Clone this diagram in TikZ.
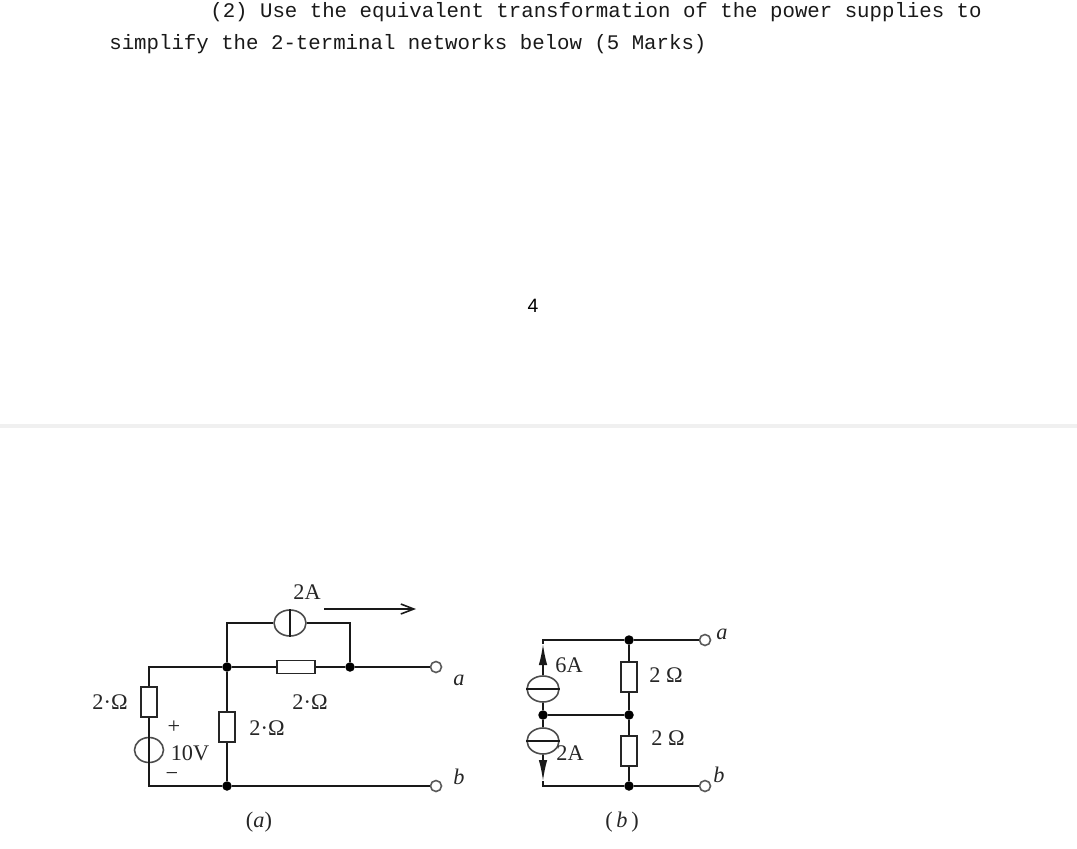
\documentclass[tikz,border=0pt]{standalone}
\usepackage{fontspec}
\setmainfont{Liberation Serif}
\setsansfont{Liberation Sans}
\setmonofont{Liberation Mono}
\usetikzlibrary{arrows.meta,shapes.geometric}

\tikzset{
  wire/.style={line width=0.9pt,black!90},
  res/.style={draw,line width=0.9pt,black!85,rectangle,inner sep=0pt,minimum width=0.32cm,minimum height=0.6cm},
  resh/.style={res,minimum width=0.76cm,minimum height=0.26cm},
  src/.style={draw,line width=0.9pt,black!70,ellipse,inner sep=0pt,minimum width=0.64cm,minimum height=0.52cm},
  dot/.style={circle,fill=black,inner sep=0pt,minimum size=0.19cm},
  term/.style={circle,draw,line width=0.9pt,black!65,fill=white,inner sep=0pt,minimum size=0.22cm},
  lab/.style={font=\fontsize{12.7}{14}\selectfont,text=black!85,inner sep=0pt},
  line/.style={font=\fontsize{11.8}{14}\ttfamily,text=black!90,inner sep=0pt,anchor=base west}
}

\begin{document}
\begin{tikzpicture}[x=0.02cm,y=-0.02cm]
\useasboundingbox (0,0) rectangle (1077,848);
\fill[white] (0,0) rectangle (1077,848);

\node[line] (l1) at (210,18) {(2) Use the equivalent transformation of the power supplies to};
\node[line] (l2) at (109,50) {simplify the 2-terminal networks below (5 Marks)};
\node[font=\fontsize{11}{13}\sffamily,inner sep=0pt] (pg) at (533,306) {4};
\fill[black!6] (0,424) rectangle (1077,428);

% network (a)
\coordinate (atl) at (149,667);
\coordinate (abl) at (149,786);
\coordinate (aup) at (227,623);
\coordinate (aur) at (350,623);
\node[dot] (aj1) at (227,667) {};
\node[dot] (aj2) at (350,667) {};
\node[dot] (aj3) at (227,786) {};
\node[term] (ta) at (436,667) {};
\node[term] (tb) at (436,786) {};
\node[res] (ra1) at (149,702) {};
\node[res] (ra2) at (227,727) {};
\node[resh] (ra3) at (296,667) {};
\node[src] (sa1) at (290,623) {};
\node[src,minimum width=0.58cm,minimum height=0.5cm] (sa2) at (149,750) {};

\draw[wire] (ra1) -- (atl) -- (aj1) -- (ra3) -- (aj2) -- (ta);
\draw[wire] (ra1) -- (abl) -- (aj3) -- (tb);
\draw[wire] (aj1) -- (ra2) -- (aj3);
\draw[wire] (aj1) -- (aup) -- (sa1) -- (aur) -- (aj2);
\draw[wire] (sa1.north) -- (sa1.south);

\coordinate (aar1) at (324,609);
\coordinate (aar2) at (416,609);
\draw[wire,-{Straight Barb[length=0.26cm,width=0.2cm]}] (aar1) -- (aar2);

\node[lab] (a1) at (307,592) {2A};
\node[lab] (a2) at (110,702) {2·Ω};
\node[lab] (a3) at (310,702) {2·Ω};
\node[lab] (a4) at (267,728) {2·Ω};
\node[lab] (a5) at (174,727) {+};
\node[lab] (a6) at (190,753) {10V};
\node[lab] (a7) at (172,777) {−};
\node[lab] (a8) at (459,680) {\textit{a}};
\node[lab] (a9) at (459,777) {\textit{b}};
\node[lab] (a10) at (259,822) {(\textit{a})};

% network (b)
\coordinate (btl) at (543,640);
\coordinate (bbl) at (543,786);
\coordinate (but) at (543,644);
\coordinate (bbt) at (543,781);
\node[dot] (bj1) at (629,640) {};
\node[dot] (bj2) at (629,715) {};
\node[dot] (bj3) at (629,786) {};
\node[dot] (bj4) at (543,715) {};
\node[term] (tc) at (705,640) {};
\node[term] (td) at (705,786) {};
\node[res] (rb1) at (629,677) {};
\node[res] (rb2) at (629,751) {};
\node[src] (sb1) at (543,689) {};
\node[src] (sb2) at (543,741) {};

\draw[wire] (but) -- (btl) -- (bj1) -- (tc);
\draw[wire] (bbt) -- (bbl) -- (bj3) -- (td);
\draw[wire] (bj1) -- (rb1) -- (bj2) -- (rb2) -- (bj3);
\draw[wire] (sb1) -- (bj4) -- (sb2);
\draw[wire] (bj4) -- (bj2);
\draw[wire] (sb1.west) -- (sb1.east);
\draw[wire] (sb2.west) -- (sb2.east);
\draw[wire,-{Latex[length=0.42cm,width=0.17cm]}] (sb1.north) -- (but);
\draw[wire,-{Latex[length=0.42cm,width=0.17cm]}] (sb2.south) -- (bbt);

\node[lab] (b1) at (569,665) {6A};
\node[lab] (b2) at (570,753) {2A};
\node[lab] (b3) at (666,675) {2 Ω};
\node[lab] (b4) at (668,738) {2 Ω};
\node[lab] (b5) at (722,634) {\textit{a}};
\node[lab] (b6) at (719,775) {\textit{b}};
\node[lab] (b7) at (622,822) {(\,\textit{b}\,)};
\end{tikzpicture}
\end{document}
